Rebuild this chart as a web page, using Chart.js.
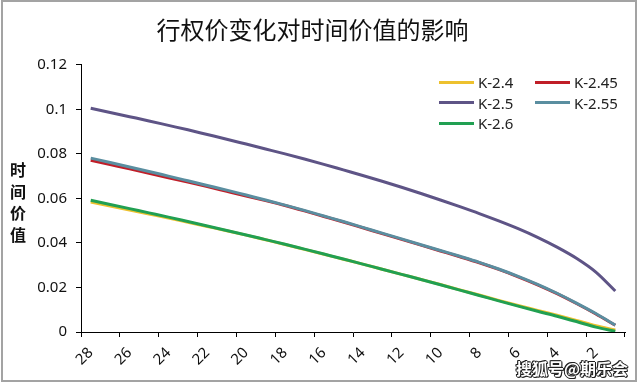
<!DOCTYPE html>
<html>
<head>
<meta charset="utf-8">
<script src="https://cdn.jsdelivr.net/npm/chart.js@4"></script>
<style>
  body { margin: 0; background: #fff; }
  #wrap { position: relative; width: 640px; height: 384px; }
  #frame { position: absolute; left: 1px; top: 0; width: 632px; height: 378px; border: 2px solid #a3a3a3; pointer-events: none; }
  #ytitle { position: absolute; left: 10px; top: 159px; width: 17px; font: bold 16px "Noto Sans CJK SC"; line-height: 21.7px; word-break: break-all; color: #111; }
  #legend { position: absolute; left: 0; top: 0; }
  .lg { position: absolute; display: flex; align-items: center; white-space: nowrap; font: 15px "Noto Sans"; color: #222; height: 20px; }
  .lg span { display: inline-block; width: 35px; height: 3px; margin-right: 4px; }
  #mark { position: absolute; left: 516px; top: 356px; font: bold 16px "Noto Sans CJK SC"; color: #fff; white-space: nowrap;
    text-shadow: 1px 0 0 #222, -1px 0 0 #222, 0 1px 0 #222, 0 -1px 0 #222, 1px 1px 0 #222, -1px -1px 0 #222; }
</style>
</head>
<body>
<div id="wrap">
  <canvas id="c" width="640" height="384"></canvas>
  <div id="ytitle">时间价值</div>
  <div id="legend"></div>
  <div id="mark">搜狐号@期乐会</div>
  <div id="frame"></div>
</div>
<script>
// days to expiry, left to right
const days = ['28','27','26','25','24','23','22','21','20','19','18','17','16','15',
              '14','13','12','11','10','9','8','7','6','5','4','3','2','1'];

const seriesNames = ['K-2.4', 'K-2.45', 'K-2.5', 'K-2.55', 'K-2.6'];
const seriesColors = ['#EDC12E', '#C01E28', '#5E5486', '#5A8EA0', '#21A052'];

const k240 = [0.0584,0.0566,0.0548,0.0530,0.0512,0.0493,0.0474,0.0455,0.0435,0.0414,0.0393,0.0371,0.0349,0.0327,
              0.0305,0.0282,0.0259,0.0236,0.0213,0.0189,0.0166,0.0142,0.0119,0.0097,0.0075,0.0052,0.0028,0.0009];
const k245 = [0.0771,0.0752,0.0733,0.0713,0.0693,0.0673,0.0653,0.0632,0.0611,0.0590,0.0568,0.0544,0.0519,0.0494,
              0.0468,0.0442,0.0416,0.0390,0.0364,0.0338,0.0311,0.0281,0.0248,0.0212,0.0172,0.0128,0.0081,0.0030];
const k250 = [0.1005,0.0986,0.0967,0.0948,0.0928,0.0908,0.0887,0.0866,0.0844,0.0822,0.0800,0.0777,0.0753,0.0728,
              0.0703,0.0677,0.0650,0.0622,0.0593,0.0563,0.0532,0.0499,0.0464,0.0425,0.0381,0.0331,0.0269,0.0184];
const k255 = [0.0781,0.0761,0.0741,0.0721,0.0700,0.0679,0.0658,0.0637,0.0615,0.0593,0.0570,0.0546,0.0521,0.0496,
              0.0470,0.0444,0.0418,0.0392,0.0366,0.0340,0.0313,0.0283,0.0250,0.0214,0.0174,0.0130,0.0083,0.0031];
const k260 = [0.0592,0.0573,0.0554,0.0535,0.0516,0.0496,0.0476,0.0456,0.0436,0.0415,0.0394,0.0372,0.0350,0.0328,
              0.0305,0.0282,0.0259,0.0236,0.0212,0.0188,0.0164,0.0140,0.0116,0.0093,0.0071,0.0047,0.0022,0.0003];

const yTicks = [0, 0.02, 0.04, 0.06, 0.08, 0.1, 0.12];

const values = [k240, k245, k250, k255, k260];

// later series drawn on top, like the original
const datasets = values.map((v, i) => ({
  label: seriesNames[i],
  data: v,
  borderColor: seriesColors[i],
  backgroundColor: seriesColors[i],
  borderWidth: 3,
  pointRadius: 0,
  cubicInterpolationMode: 'monotone',
  fill: false,
  order: values.length - i
}));

// html legend, two columns
const lg = document.getElementById('legend');
seriesNames.forEach((name, i) => {
  const d = document.createElement('div');
  d.className = 'lg';
  d.style.left = (439 + (i % 2) * 96) + 'px';
  d.style.top = (72 + Math.floor(i / 2) * 20.7) + 'px';
  d.innerHTML = '<span style="background:' + seriesColors[i] + '"></span>' + name;
  lg.appendChild(d);
});

const tickFont = { family: 'Noto Sans', size: 15 };

new Chart(document.getElementById('c'), {
  type: 'line',
  data: { labels: days, datasets },
  options: {
    responsive: false,
    animation: false,
    devicePixelRatio: 1,
    layout: { padding: { left: 0, right: 15, top: 0, bottom: 0 } },
    plugins: {
      legend: { display: false },
      tooltip: { enabled: false },
      title: {
        display: true,
        text: '行权价变化对时间价值的影响',
        color: '#111',
        font: { family: 'Noto Sans CJK SC', size: 24, weight: 'normal', lineHeight: 1.2 },
        padding: { top: 15, bottom: 21 }
      }
    },
    scales: {
      x: {
        type: 'category',
        offset: true,
        afterFit: s => { s.height = 52; },
        border: { display: true, color: '#000', width: 1 },
        grid: {
          offset: true,
          drawOnChartArea: false,
          drawTicks: true,
          tickLength: 5,
          tickWidth: 1,
          tickColor: c => (c.index === undefined || c.index % 2 === 0) ? '#000' : 'rgba(0,0,0,0)'
        },
        ticks: {
          autoSkip: false,
          maxRotation: 45,
          minRotation: 45,
          padding: 7,
          color: '#111',
          font: tickFont,
          callback: (v, i) => i % 2 === 0 ? days[i] : ''
        }
      },
      y: {
        min: 0,
        max: 0.12,
        afterFit: s => { s.width = 81; },
        afterBuildTicks: s => { s.ticks = yTicks.map(v => ({ value: v })); },
        border: { display: true, color: '#000', width: 1 },
        grid: { drawOnChartArea: false, drawTicks: true, tickLength: 5, tickColor: '#000' },
        ticks: {
          padding: 9,
          color: '#111',
          font: tickFont,
          callback: v => String(+v.toFixed(2))
        }
      }
    }
  }
});
</script>
</body>
</html>
